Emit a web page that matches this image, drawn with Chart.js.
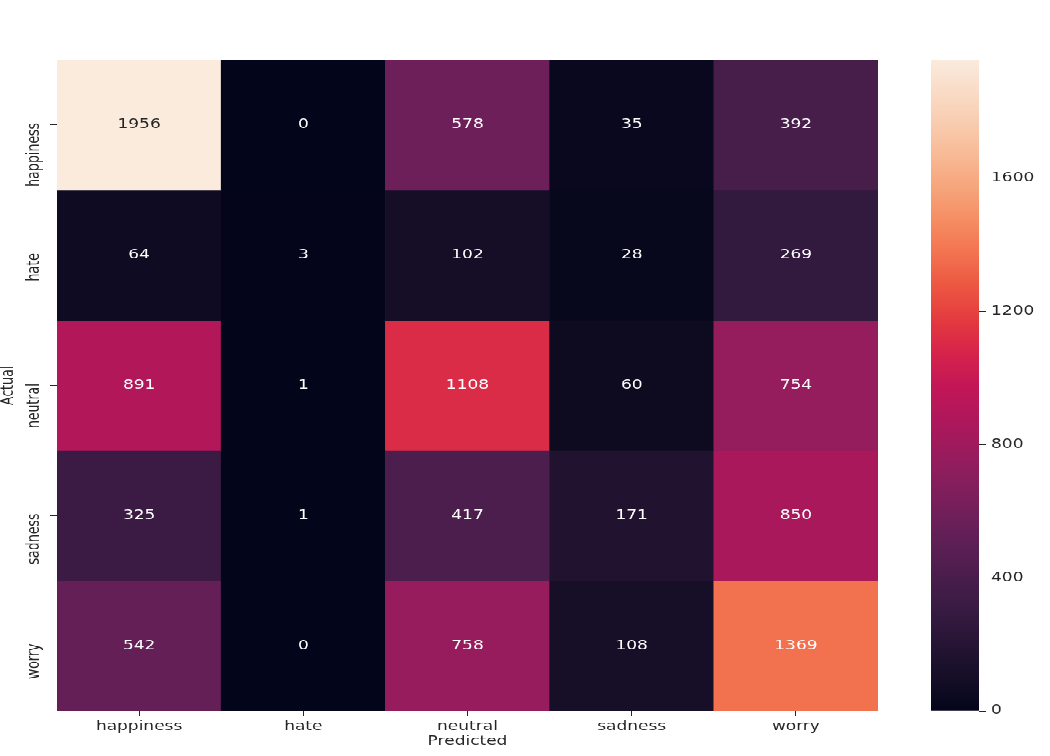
<!DOCTYPE html>
<html>
<head>
<meta charset="utf-8">
<script src="https://cdn.jsdelivr.net/npm/chart.js@4.4.1/dist/chart.umd.min.js"></script>
<style>
  html, body { margin: 0; padding: 0; background: #ffffff; overflow: hidden; }
  #wrap { position: absolute; left: 0; top: 0; width: 1050px; height: 1021px;
          transform: scaleY(0.7405); transform-origin: 0 0; }
  #main { position: absolute; left: 0; top: 0; }
  #cbar { position: absolute; left: 900px; top: 0; }
</style>
</head>
<body>
<div id="wrap">
  <canvas id="main" width="1050" height="1021"></canvas>
  <canvas id="cbar" width="150" height="1021"></canvas>
</div>
<script>
// ---------- data ----------
const predictedLabels = ["happiness", "hate", "neutral", "sadness", "worry"];
const actualLabels    = ["happiness", "hate", "neutral", "sadness", "worry"];
const rowHappiness = [1956, 0, 578, 35, 392];
const rowHate      = [64, 3, 102, 28, 269];
const rowNeutral   = [891, 1, 1108, 60, 754];
const rowSadness   = [325, 1, 417, 171, 850];
const rowWorry     = [542, 0, 758, 108, 1369];
const colorbarTicks = [0, 400, 800, 1200, 1600];

const matrix = [rowHappiness, rowHate, rowNeutral, rowSadness, rowWorry];
const vmin = 0;
const vmax = Math.max(...matrix.flat());

// ---------- rocket colormap (approximation) ----------
const rocketStops = [
  [0.00, "#03051a"], [0.05, "#150e26"], [0.10, "#251433"], [0.15, "#361a41"],
  [0.20, "#471d4a"], [0.25, "#5a1f54"], [0.30, "#6f1f59"], [0.35, "#851e5c"],
  [0.40, "#9b1b5d"], [0.45, "#b0175b"], [0.50, "#c31656"], [0.55, "#d6234b"],
  [0.60, "#e33a3f"], [0.65, "#ec5541"], [0.70, "#f2714f"], [0.75, "#f58b60"],
  [0.80, "#f6a379"], [0.85, "#f7b894"], [0.90, "#f8cbae"], [0.95, "#f9dbc6"],
  [1.00, "#faebdd"]
];
function hexRgb(h) { return [parseInt(h.slice(1,3),16), parseInt(h.slice(3,5),16), parseInt(h.slice(5,7),16)]; }
function rocketRgb(t) {
  t = Math.max(0, Math.min(1, t));
  for (let i = 1; i < rocketStops.length; i++) {
    if (t <= rocketStops[i][0]) {
      const [t0, c0] = rocketStops[i-1], [t1, c1] = rocketStops[i];
      const f = (t - t0) / (t1 - t0);
      const a = hexRgb(c0), b = hexRgb(c1);
      return a.map((v, k) => Math.round(v + (b[k] - v) * f));
    }
  }
  return hexRgb(rocketStops[rocketStops.length-1][1]);
}
function valueRgb(v) { return rocketRgb((v - vmin) / (vmax - vmin)); }
function css(rgb) { return `rgb(${rgb[0]},${rgb[1]},${rgb[2]})`; }
function luminance(rgb) {
  const l = rgb.map(c => { c /= 255; return c <= 0.03928 ? c / 12.92 : Math.pow((c + 0.055) / 1.055, 2.4); });
  return 0.2126 * l[0] + 0.7152 * l[1] + 0.0722 * l[2];
}

const TEXT = "#262626";
const FONT = "'DejaVu Sans', sans-serif";
Chart.defaults.font.family = FONT;
Chart.defaults.font.size = 17;
Chart.defaults.color = TEXT;

// ---------- annotation + rotated y labels plugin ----------
const annotPlugin = {
  id: "annot",
  afterDatasetsDraw(chart) {
    const ctx = chart.ctx;
    ctx.save();
    ctx.font = "17px " + FONT;
    ctx.textAlign = "center";
    ctx.textBaseline = "middle";
    chart.data.datasets.forEach((ds, i) => {
      const meta = chart.getDatasetMeta(i);
      meta.data.forEach((bar, j) => {
        const v = matrix[i][j];
        const p = bar.getCenterPoint();
        ctx.fillStyle = luminance(valueRgb(v)) > 0.408 ? TEXT : "#ffffff";
        ctx.fillText(String(v), p.x, p.y);
      });
    });
    const ys = chart.scales.y;
    ctx.fillStyle = TEXT;
    ctx.textAlign = "right";
    actualLabels.forEach((lab, i) => {
      const y = ys.getPixelForValue(i + 0.5);
      ctx.save();
      ctx.translate(ys.right - 22, y - 3);
      ctx.rotate(-Math.PI / 2);
      ctx.fillText(lab, 0, 0);
      ctx.restore();
    });
    ctx.restore();
  }
};

// ---------- main heatmap ----------
const datasets = matrix.map((row, i) => ({
  label: actualLabels[i],
  data: row.map(() => 1),
  backgroundColor: row.map(v => css(valueRgb(v))),
  borderWidth: 0,
  categoryPercentage: 1.0,
  barPercentage: 1.0
}));

new Chart(document.getElementById("main"), {
  type: "bar",
  data: { labels: predictedLabels, datasets },
  options: {
    responsive: false,
    devicePixelRatio: 1,
    animation: false,
    events: [],
    layout: { padding: { left: 0, right: 172, top: 81, bottom: 0 } },
    plugins: { legend: { display: false }, tooltip: { enabled: false } },
    scales: {
      x: {
        stacked: true,
        offset: true,
        border: { display: false },
        grid: { offset: false, drawOnChartArea: false, drawTicks: true, tickLength: 7, color: TEXT, lineWidth: 1 },
        ticks: { padding: 4, color: TEXT, maxRotation: 0, minRotation: 0 },
        title: { display: true, text: "Predicted", color: TEXT, padding: { top: 0, bottom: 9 } },
        afterFit(s) { s.height = 61; }
      },
      y: {
        stacked: true,
        min: 0, max: 5,
        reverse: true,
        border: { display: false },
        grid: { drawOnChartArea: false, drawTicks: true, tickLength: 7, color: TEXT, lineWidth: 1 },
        ticks: { callback: () => "", padding: 0 },
        afterBuildTicks(s) { s.ticks = actualLabels.map((_, i) => ({ value: i + 0.5 })); },
        title: { display: true, text: "Actual", color: TEXT, font: { size: 17, lineHeight: 1 }, padding: { top: 0, bottom: 0 } },
        afterFit(s) { s.width = 57; }
      }
    }
  },
  plugins: [annotPlugin]
});

// ---------- colorbar ----------
new Chart(document.getElementById("cbar"), {
  type: "bar",
  data: {
    labels: [""],
    datasets: [{
      data: [vmax],
      borderWidth: 0,
      categoryPercentage: 1.0,
      barPercentage: 1.0,
      backgroundColor(c) {
        const ca = c.chart.chartArea;
        if (!ca) return "#000";
        const g = c.chart.ctx.createLinearGradient(0, ca.bottom, 0, ca.top);
        for (let k = 0; k <= 40; k++) {
          const t = k / 40;
          g.addColorStop(t, css(rocketRgb(t)));
        }
        return g;
      }
    }]
  },
  options: {
    responsive: false,
    devicePixelRatio: 1,
    animation: false,
    events: [],
    layout: { padding: { left: 31, right: 0, top: 81, bottom: 61 } },
    plugins: { legend: { display: false }, tooltip: { enabled: false } },
    scales: {
      x: { display: false },
      y: {
        position: "right",
        min: vmin, max: vmax,
        border: { display: false },
        grid: { drawOnChartArea: false, drawTicks: true, tickLength: 7, color: TEXT, lineWidth: 1 },
        ticks: { padding: 5, color: TEXT, callback: v => String(v) },
        afterBuildTicks(s) { s.ticks = colorbarTicks.map(v => ({ value: v })); },
        afterFit(s) { s.width = 71; }
      }
    }
  }
});
</script>
</body>
</html>
